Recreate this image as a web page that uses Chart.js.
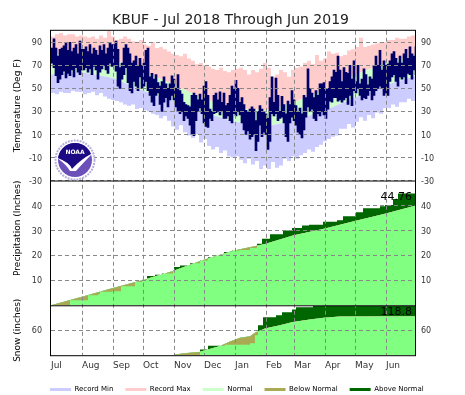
<!DOCTYPE html>
<html>
<head>
<meta charset="utf-8">
<title>KBUF - Jul 2018 Through Jun 2019</title>
<script src="https://cdn.jsdelivr.net/npm/chart.js@4/dist/chart.umd.min.js"></script>
<style>
body { margin: 0; background: #fff; }
canvas { display: block; }
</style>
</head>
<body>
<canvas id="chart" width="465" height="395"></canvas>
<script>
const chartTitle = 'KBUF - Jul 2018 Through Jun 2019';
const monthNames = ['Jul', 'Aug', 'Sep', 'Oct', 'Nov', 'Dec', 'Jan', 'Feb', 'Mar', 'Apr', 'May', 'Jun'];
const monthStarts = [0, 31, 62, 92, 123, 153, 184, 215, 243, 274, 304, 335];
const tempTicks = [-30, -10, 10, 30, 50, 70, 90];
const precipTicks = [10, 20, 30, 40];
const snowTicks = [60];
const legendNames = ['Record Min', 'Record Max', 'Normal', 'Below Normal', 'Above Normal'];
const legendColors = ['#ccccff', '#ffcccc', '#ccffcc', '#aaaa55', '#006600'];

// record values, one every 4 days
const recordMax = [95, 97, 98, 96, 97, 97, 95, 96, 95, 94, 95, 93, 96, 94, 100, 95,
    92, 93, 95, 93, 91, 90, 92, 88,
    87, 90, 85, 86, 84, 82, 80, 79,
    78, 80, 76, 74, 71, 72, 70,
    69, 67, 66, 68, 65, 64, 66, 67,
    68, 66, 62, 66, 64, 67, 72, 68,
    60, 62, 66, 64, 60, 66, 68,
    69, 72, 74, 71, 79, 74, 76,
    82, 80, 81, 78, 79, 83, 84, 86,
    94, 86, 87, 88, 89, 90, 90, 92,
    92, 94, 93, 93, 95, 96, 97];
const recordMin = [46, 45, 47, 46, 46, 48, 47, 47, 45, 46, 47, 44, 46, 43, 41, 40,
    39, 38, 36, 35, 36, 32, 33, 31,
    30, 28, 27, 24, 26, 22, 17, 14,
    18, 12, 9, 7, 10, 3, 6,
    0, -3, -1, -6, -4, -9, -10, -9,
    -12, -15, -11, -16, -13, -20, -17, -20,
    -14, -19, -17, -11, -13, -9, -11,
    -8, -6, -3, -5, -1, 1, 4,
    6, 8, 9, 15, 15, 19, 16, 21,
    25, 22, 27, 24, 29, 28, 33, 33,
    36, 34, 38, 38, 41, 39, 45];

// normals, read at the month starts and at the end of the year
const normalDays = [0, 20, 31, 62, 92, 123, 153, 184, 215, 243, 274, 304, 335, 365];
const normalHigh = [79, 81, 80, 75, 65, 53, 41, 33, 31, 38, 49, 62, 72, 79];
const normalLow = [62, 64, 64, 59, 48, 39, 29, 21, 17, 22, 31, 42, 53, 61];

// observed high and low, one every 2 days
const observedHigh = [85, 93, 85, 78, 84, 85, 87, 90, 83, 90, 82, 85, 88, 80, 91, 84,
    84, 86, 82, 88, 80, 85, 83, 79, 87, 83, 88, 80, 85, 90, 88,
    88, 91, 84, 68, 72, 85, 88, 85, 80, 72, 74, 78, 70, 76, 70,
    72, 83, 85, 60, 63, 58, 62, 55, 52, 56, 60, 54, 50, 54, 61, 58,
    50, 62, 48, 45, 38, 36, 35, 34, 44, 46, 44, 40, 45, 40, 52,
    56, 44, 32, 30, 44, 46, 40, 47, 38, 46, 35, 37, 44, 52, 50,
    57, 50, 38, 42, 36, 31, 30, 32, 34, 32, 22, 30, 35, 32, 30, 28,
    24, 42, 60, 38, 59, 44, 30, 43, 36, 28, 39, 36, 48, 40,
    35, 30, 33, 28, 44, 42, 67, 50, 46, 42, 48, 44, 54, 54, 55,
    50, 50, 56, 60, 66, 64, 78, 66, 56, 68, 64, 63, 70, 58, 74,
    56, 70, 54, 58, 67, 62, 53, 60, 58, 70, 78, 70, 83, 66, 74, 70,
    71, 74, 80, 82, 76, 72, 78, 72, 80, 84, 76, 86, 80, 78, 86];
const observedLow = [72, 68, 61, 55, 58, 62, 65, 59, 63, 61, 66, 60, 68, 64, 62, 66,
    66, 68, 64, 67, 62, 69, 66, 58, 64, 67, 70, 66, 63, 72, 69,
    70, 65, 52, 50, 58, 62, 68, 55, 48, 46, 56, 52, 48, 60, 50,
    52, 56, 48, 44, 38, 35, 44, 46, 36, 30, 38, 42, 34, 40, 44, 40,
    34, 30, 28, 30, 22, 26, 24, 18, 10, 9, 22, 30, 33, 28, 20,
    17, 16, 24, 22, 28, 29, 30, 27, 30, 24, 24, 26, 22, 20, 28,
    26, 30, 27, 20, 14, 10, 13, 6, 8, 10, -4, 4, 18, 8, 12, 10,
    -3, 4, 28, 26, 28, 22, 24, 25, 20, 8, 4, 20, 25, 22,
    18, 12, 10, 7, 14, 25, 34, 30, 32, 24, 22, 28, 26, 30, 27,
    24, 32, 39, 38, 42, 42, 39, 40, 38, 40, 42, 36, 44, 35, 48,
    46, 50, 44, 40, 42, 41, 44, 48, 40, 44, 48, 50, 52, 50, 44, 46,
    44, 56, 60, 62, 56, 52, 60, 58, 60, 54, 63, 62, 58, 66, 62];

// cumulative precipitation
const precipNormalDays = [0, 30, 61, 91, 122, 152, 183, 214, 242, 273, 303, 334, 365];
const precipNormal = [0, 3.3, 6.8, 10, 13.7, 18.2, 22, 24.6, 28, 30.7, 33.7, 36.7, 40];
const precipDays = [0, 19, 37, 47, 49, 61, 70, 84, 91, 96, 104, 111, 122, 123, 129, 139, 149, 157, 164, 171, 173, 181, 189, 199, 206, 211, 219, 232, 241, 251, 258, 272, 286, 292, 305, 312, 329, 334, 342, 347, 365];
const precipObserved = [0, 2, 4, 4.4, 5.4, 5.6, 7.6, 9.3, 10.2, 11.7, 12.2, 12.7, 14, 15.3, 15.9, 16.8, 18, 19.3, 20, 20.5, 21.4, 22, 22.2, 23, 24.7, 26.7, 28.5, 30, 31, 32, 32.3, 33.5, 34.1, 35.7, 37.3, 38.9, 39.7, 40.2, 42.6, 44.76, 44.76];
const precipTotal = '44.76';

// cumulative snow
const snowNormalDays = [0, 90, 91, 122, 131, 149, 157, 169, 179, 189, 199, 205, 207, 214, 229, 242, 259, 273, 289, 365];
const snowNormal = [0, 0, 0.6, 0.6, 4, 8, 14, 22, 33, 42, 45.6, 56, 57, 64, 72, 80, 86, 90, 93, 93.5];
const snowDays = [0, 149, 157, 174, 199, 204, 207, 212, 225, 231, 241, 245, 262, 272, 365];
const snowObserved = [0, 14, 23, 25, 29, 48, 72, 91, 96, 103, 110, 115, 118, 118.8, 118.8];
const snowTotal = '118.8';

function pairs(days, values) {
    return values.map((value, i) => ({ x: days[i], y: value }));
}

const recordDays = recordMax.map((value, i) => i * 4);
const observedBars = observedHigh.map((value, i) => ({ x: i * 2 + 1, y: [observedLow[i], value] }));

function lineSet(label, data, yAxisID, fill, order, stepped) {
    return { type: 'line', label, data, yAxisID, xAxisID: 'x', fill, order, stepped,
        backgroundColor: 'transparent', borderWidth: 0, pointRadius: 0, tension: 0 };
}

const datasets = [
    lineSet('Record Max', pairs(recordDays, recordMax), 'yT', { target: 1, above: '#ffcccc', below: '#ffcccc' }, 9, true),
    lineSet('Normal High', pairs(normalDays, normalHigh), 'yT', { target: 2, above: '#ccffcc', below: '#ccffcc' }, 8, false),
    lineSet('Normal Low', pairs(normalDays, normalLow), 'yT', { target: 3, above: '#ccccff', below: '#ccccff' }, 7, false),
    lineSet('Record Min', pairs(recordDays, recordMin), 'yT', false, 6, true),
    { type: 'bar', label: 'Observed', data: observedBars, yAxisID: 'yT', xAxisID: 'x', backgroundColor: '#000066', barThickness: 2, order: 1 },
    lineSet('Normal Precip', pairs(precipNormalDays, precipNormal), 'yP', { target: 'origin', above: '#80ff80' }, 5, false),
    lineSet('Precip', pairs(precipDays, precipObserved), 'yP', { target: 5, above: '#006600', below: '#aaaa55' }, 4, true),
    lineSet('Normal Snow', pairs(snowNormalDays, snowNormal), 'yS', { target: 'origin', above: '#80ff80' }, 3, false),
    lineSet('Snow', pairs(snowDays, snowObserved), 'yS', { target: 7, above: '#006600', below: '#aaaa55' }, 2, true)
];

function yAxis(position, stack, weight, min, max, ticks, titleText, titleAlign) {
    const axis = {
        type: 'linear', position, stack, stackWeight: weight, min, max,
        afterBuildTicks(scale) { scale.ticks = ticks.map(value => ({ value })); },
        afterFit(scale) { scale.width = position === 'left' ? 41 : 49; },
        grid: { display: position === 'left', color: '#888888', drawTicks: false, z: 1 },
        border: { display: false, dash: [4, 3] },
        ticks: { padding: position === 'left' ? 9 : 5, labelOffset: 1, font: { family: 'DejaVu Sans', size: 8 }, color: '#333333', autoSkip: false }
    };
    if (titleText) {
        axis.title = { display: true, text: titleText, align: titleAlign || 'center', font: { family: 'DejaVu Sans', size: 9 }, color: '#000000', padding: 2 };
    }
    return axis;
}

// frame, the two totals and the NOAA logo
const extras = {
    id: 'extras',
    beforeDraw(chart) {
        chart.legend.left = 38;
        chart.legend.top -= 2;
        chart.titleBlock.right = 451;
    },
    afterDraw(chart) {
        const ctx = chart.ctx;
        const area = chart.chartArea;
        const s = chart.scales;
        ctx.save();
        ctx.strokeStyle = '#000000';
        ctx.lineWidth = 1;
        ctx.strokeRect(area.left - 0.5, area.top - 0.5, area.right - area.left, area.bottom - area.top + 1);
        [s.yP.top, s.yS.top].forEach(y => {
            ctx.beginPath();
            ctx.moveTo(area.left, y + 0.5);
            ctx.lineTo(area.right, y + 0.5);
            ctx.stroke();
        });

        ctx.fillStyle = '#000000';
        ctx.font = '11px "DejaVu Sans"';
        ctx.textAlign = 'right';
        ctx.textBaseline = 'middle';
        ctx.fillText(precipTotal, 412, s.yP.getPixelForValue(44.76) + 4);
        ctx.fillText(snowTotal, 412, s.yS.getPixelForValue(118.8) + 6);

        const cx = 75, cy = 160;
        ctx.beginPath();
        ctx.arc(cx, cy, 19.5, 0, Math.PI * 2);
        ctx.fillStyle = '#ffffff';
        ctx.fill();
        ctx.strokeStyle = '#b8b0dc';
        ctx.lineWidth = 2;
        ctx.setLineDash([2, 1]);
        ctx.stroke();
        ctx.setLineDash([]);
        ctx.beginPath();
        ctx.arc(cx, cy, 17, 0, Math.PI * 2);
        ctx.fillStyle = '#6a50b8';
        ctx.fill();
        ctx.save();
        ctx.clip();
        ctx.beginPath();
        ctx.moveTo(cx - 18, cy - 2);
        ctx.quadraticCurveTo(cx - 6, cy + 2, cx - 3, cy + 9);
        ctx.quadraticCurveTo(cx + 6, cy - 1, cx + 18, cy - 7);
        ctx.lineTo(cx + 18, cy - 20);
        ctx.lineTo(cx - 18, cy - 20);
        ctx.closePath();
        ctx.fillStyle = '#1c0a85';
        ctx.fill();
        ctx.beginPath();
        ctx.moveTo(cx - 18, cy - 2);
        ctx.quadraticCurveTo(cx - 6, cy + 2, cx - 3, cy + 9);
        ctx.quadraticCurveTo(cx + 6, cy - 1, cx + 18, cy - 7);
        ctx.quadraticCurveTo(cx + 8, cy + 3, cx + 1, cy + 11);
        ctx.lineTo(cx - 5, cy + 11);
        ctx.quadraticCurveTo(cx - 9, cy + 4, cx - 18, cy - 2);
        ctx.fillStyle = '#ffffff';
        ctx.fill();
        ctx.restore();
        ctx.fillStyle = '#ffffff';
        ctx.font = 'bold 6px "DejaVu Sans"';
        ctx.textAlign = 'center';
        ctx.fillText('NOAA', cx, cy - 8);
        ctx.restore();
    }
};

new Chart(document.getElementById('chart'), {
    data: { datasets },
    plugins: [extras],
    options: {
        responsive: false,
        animation: false,
        layout: { padding: { left: 10, right: 0, top: 0, bottom: -10 } },
        plugins: {
            title: {
                display: true, text: chartTitle, color: '#222222',
                font: { family: 'DejaVu Sans', size: 14, weight: 'normal' },
                padding: { top: 12, bottom: 2 }
            },
            legend: {
                position: 'bottom', align: 'start',
                labels: {
                    boxWidth: 21, boxHeight: 3, padding: 12,
                    font: { family: 'DejaVu Sans', size: 7 }, color: '#444444',
                    generateLabels() {
                        return legendNames.map((text, i) => ({ text, fillStyle: legendColors[i], strokeStyle: legendColors[i], lineWidth: 0 }));
                    }
                }
            },
            tooltip: { enabled: false }
        },
        scales: {
            x: {
                type: 'linear', position: 'bottom', min: 0, max: 365, offset: false,
                afterBuildTicks(scale) { scale.ticks = monthStarts.map(value => ({ value })); },
                grid: { color: '#888888', drawTicks: false, z: 1, offset: false },
                border: { display: false, dash: [4, 3] },
                ticks: {
                    autoSkip: false, maxRotation: 0, align: 'start', padding: 5,
                    font: { family: 'DejaVu Sans', size: 9 }, color: '#333333',
                    callback(value) { return monthNames[monthStarts.indexOf(value)]; }
                }
            },
            yS: yAxis('left', 'main', 50, 0, 120, snowTicks, 'Snow (inches)'),
            yP: yAxis('left', 'main', 125, 0, 50, precipTicks, 'Precipitation (Inches)', 'end'),
            yT: yAxis('left', 'main', 150, -30, 100, tempTicks, 'Temperature (Deg F)'),
            yTR: yAxis('right', 'side', 150, -30, 100, tempTicks),
            yPR: yAxis('right', 'side', 125, 0, 50, precipTicks),
            ySR: yAxis('right', 'side', 50, 0, 120, snowTicks)
        }
    }
});
</script>
</body>
</html>
